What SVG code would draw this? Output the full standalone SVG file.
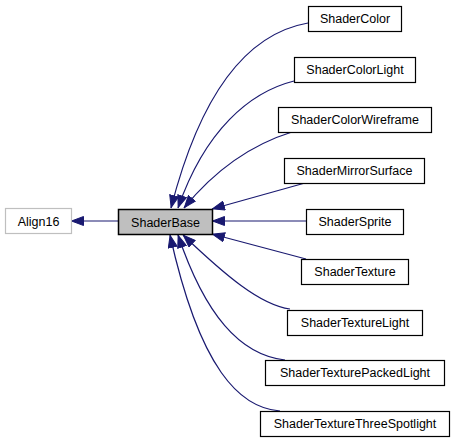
<svg xmlns="http://www.w3.org/2000/svg" width="455" height="443" viewBox="0 0 455 443">
<style>
.box{fill:#ffffff;stroke:#000000;stroke-width:1.2}
.base{fill:#bfbfbf;stroke:#000000;stroke-width:1.5}
.ext{fill:#ffffff;stroke:#bfbfbf;stroke-width:1.2}
.lbl{font-family:"Liberation Sans",Arial,sans-serif;font-size:12.5px;fill:#000000;text-anchor:middle}
.edge{fill:none;stroke:#191970;stroke-width:1.2;marker-end:url(#arr)}
</style>
<defs>
<marker id="arr" markerUnits="userSpaceOnUse" viewBox="0 0 13 10" markerWidth="13" markerHeight="10" refX="13" refY="5" orient="auto">
<path d="M0.5,0.5 L12.5,5 L0.5,9.5 z" fill="#191970" stroke="#191970" stroke-width="1"/>
</marker>
</defs>
<g id="connectors">
<path class="edge" d="M118,221 L71,221"/>
<path class="edge" d="M308,23 C245,34 200,95 171,208"/>
<path class="edge" d="M294,81 C250,92 205,130 178,208"/>
<path class="edge" d="M292,132 C250,145 215,170 184,208"/>
<path class="edge" d="M305,183 L212,209"/>
<path class="edge" d="M306,221 L212,221"/>
<path class="edge" d="M306,259 L212,234"/>
<path class="edge" d="M290,309 C260,305 225,275 183,235"/>
<path class="edge" d="M285,360 C240,355 205,315 178,235"/>
<path class="edge" d="M280,411 C240,408 200,370 170,235"/>
</g>
<g id="Align16"><rect class="ext" x="5.5" y="208.5" width="66" height="25"/><text class="lbl" x="38.5" y="225.5">Align16</text></g>
<g id="ShaderBase"><rect class="base" x="118.5" y="209.5" width="94" height="25"/><text class="lbl" x="165.5" y="226.5">ShaderBase</text></g>
<g id="ShaderColor"><rect class="box" x="308.5" y="6.5" width="93" height="25"/><text class="lbl" x="355" y="23">ShaderColor</text></g>
<g id="ShaderColorLight"><rect class="box" x="294.5" y="57.5" width="121" height="25"/><text class="lbl" x="355" y="74">ShaderColorLight</text></g>
<g id="ShaderColorWireframe"><rect class="box" x="278.5" y="107.5" width="153" height="25"/><text class="lbl" x="355" y="124">ShaderColorWireframe</text></g>
<g id="ShaderMirrorSurface"><rect class="box" x="284.5" y="158.5" width="140" height="25"/><text class="lbl" x="354.5" y="175">ShaderMirrorSurface</text></g>
<g id="ShaderSprite"><rect class="box" x="306.5" y="209.5" width="97" height="25"/><text class="lbl" x="355" y="226">ShaderSprite</text></g>
<g id="ShaderTexture"><rect class="box" x="301.5" y="259.5" width="107" height="25"/><text class="lbl" x="355" y="276">ShaderTexture</text></g>
<g id="ShaderTextureLight"><rect class="box" x="287.5" y="310.5" width="135" height="25"/><text class="lbl" x="355" y="327">ShaderTextureLight</text></g>
<g id="ShaderTexturePackedLight"><rect class="box" x="265.5" y="360.5" width="179" height="25"/><text class="lbl" x="355" y="377">ShaderTexturePackedLight</text></g>
<g id="ShaderTextureThreeSpotlight"><rect class="box" x="260.5" y="411.5" width="189" height="25"/><text class="lbl" x="355" y="428">ShaderTextureThreeSpotlight</text></g>
</svg>
